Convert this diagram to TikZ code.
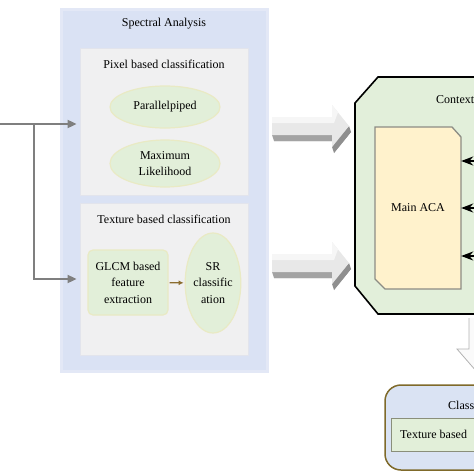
\documentclass[tikz,border=0pt]{standalone}
\usepackage{fontspec}
\setmainfont{Liberation Serif}
\usetikzlibrary{shapes.geometric,arrows.meta,calc}
\definecolor{panelblue}{HTML}{DAE2F4}
\definecolor{paneledge}{HTML}{E3E8F6}
\definecolor{innergray}{HTML}{F0F0F1}
\definecolor{innerborder}{HTML}{E2E4EC}
\definecolor{ellgreen}{HTML}{E2EFD9}
\definecolor{ellborder}{HTML}{E9EAC4}
\definecolor{ctxgreen}{HTML}{E2EFDA}
\definecolor{acayellow}{HTML}{FFF2CC}
\definecolor{acaborder}{HTML}{8C8C84}
\definecolor{classblue}{HTML}{DAE3F3}
\definecolor{classborder}{HTML}{7F6A2A}
\definecolor{linegray}{HTML}{7F7F7F}
\definecolor{brownarrow}{HTML}{8B6D2F}
\definecolor{facegray}{HTML}{E8E8E8}
\definecolor{facelight}{HTML}{F6F6F6}
\definecolor{sidegray}{HTML}{A3A3A3}
\definecolor{sidedark}{HTML}{8F8F8F}
\definecolor{texbox}{HTML}{E2EFD9}
\definecolor{texborder}{HTML}{8A8F7A}
\newcommand\myblockarrow[1]{%
  \begin{scope}[shift={#1}]
    \fill[sidegray] (2,6) -- (62,6) -- (62,-6) -- (79,15) -- (62,36) -- (62,24) -- (2,24) -- cycle;
    \fill[sidegray] (0,18) -- (60,18) -- (62,24) -- (2,24) -- cycle;
    \fill[sidedark] (60,30) -- (77,9) -- (79,15) -- (62,36) -- cycle;
    \fill[facegray] (0,0) -- (60,0) -- (60,-12) -- (77,9) -- (60,30) -- (60,18) -- (0,18) -- cycle;
    \fill[facelight] (0,0) -- (60,0) -- (60,-12) -- (66,-4.6) -- (62,6) -- (0,6) -- cycle;
  \end{scope}}
\begin{document}
\begin{tikzpicture}[x=1pt,y=-1pt,
  font=\fontsize{12}{16.6}\selectfont,
  ell/.style={ellipse, fill=ellgreen, draw=ellborder, line width=1.2pt, inner sep=0pt, align=center},
  gbox/.style={rectangle, rounded corners=5pt, fill=ellgreen, draw=ellborder, line width=1.2pt, inner sep=0pt, align=center},
  panel/.style={rectangle, fill=panelblue, draw=paneledge, line width=3pt, inner sep=0pt},
  inbox/.style={rectangle, fill=innergray, draw=innerborder, line width=0.8pt, inner sep=0pt},
  conn/.style={draw=linegray, line width=1.8pt, -{Triangle[length=9pt,width=8pt]}},
  lbl/.style={inner sep=0pt},
  blk/.style={-{Stealth[length=12pt,width=9pt,fill=black]}, line width=1.4pt, color=black},
]
\useasboundingbox (0,0) rectangle (474,474);
\clip (0,0) rectangle (474,474);

% Spectral analysis panel
\node[panel, minimum width=206pt, minimum height=362pt] (spec) at (164,190) {};
\node[lbl] (spect) at (164,24) {Spectral Analysis};
\node[inbox, minimum width=168pt, minimum height=147pt] (pix) at (164,121.5) {};
\node[lbl] (pixt) at (164,64) {Pixel based classification};
\node[ell, minimum width=110pt, minimum height=42pt] (par) at (165,107) {Parallelpiped};
\node[ell, minimum width=110pt, minimum height=47pt] (ml) at (165,163.5) {Maximum\\Likelihood};
\node[inbox, minimum width=168pt, minimum height=152pt] (tex) at (164,279) {};
\node[lbl] (text) at (164,219) {Texture based classification};
\node[gbox, minimum width=80pt, minimum height=65pt] (glcm) at (128,282.5) {GLCM based\\feature\\extraction};
\node[ell, minimum width=54pt, minimum height=100pt] (sr) at (213,283) {SR\\classific\\ation};
\draw[brownarrow, line width=1.3pt, -{Latex[length=5pt,width=5pt]}, shorten <=1pt, shorten >=1pt] (glcm) -- (sr);

% input connectors
\coordinate (in) at (0,124);
\coordinate (br) at (34,124);
\draw[conn, shorten >=3pt] (in) -- (in -| pix.west);
\draw[conn, shorten >=3pt] (br) |- (tex.west);

% block arrows
\myblockarrow{(272,117)}
\myblockarrow{(272,254)}

% Context box
\fill[ctxgreen] (378,77) -- (490,77) -- (490,314) -- (378,314) -- (355,286) -- (355,103) -- cycle;
\draw[black, line width=1.6pt] (490,77) -- (378,77) -- (355,103) -- (355,286) -- (378,314) -- (490,314);
\node[lbl, anchor=west] (ctxt) at (436,100) {Context};

% Main ACA
\fill[acayellow] (375,127) -- (452,127) -- (461,137) -- (461,289) -- (385,289) -- (375,279) -- cycle;
\draw[acaborder, line width=1.3pt] (375,127) -- (452,127) -- (461,137) -- (461,289) -- (385,289) -- (375,279) -- cycle;
\node[lbl, minimum width=86pt, minimum height=162pt] (aca) at (418,208) {Main ACA};

\coordinate (r1) at (480,161);
\coordinate (r2) at (480,208);
\coordinate (r3) at (480,256);
\draw[blk] (r1) -- (r1 -| aca.east);
\draw[blk] (r2) -- (r2 -| aca.east);
\draw[blk] (r3) -- (r3 -| aca.east);

% down block arrow (partly visible)
\fill[sidegray!70] (472,321) -- (472,351) -- (460,351) -- (493,390) -- (530,351) -- cycle;
\fill[white!96!gray] (469,318) -- (511,318) -- (511,349) -- (523,349) -- (490,387) -- (457,349) -- (469,349) -- cycle;
\draw[gray!60, line width=0.8pt] (469,318) -- (469,349) -- (457,349) -- (490,387);

% Classification box
\draw[classborder, fill=classblue, line width=1.5pt, rounded corners=16pt] (385,385) rectangle (580,470);
\node[lbl, anchor=west] (clst) at (448,405) {Class};
\node[rectangle, fill=texbox, draw=texborder, line width=1pt, minimum width=180pt, minimum height=33pt, inner sep=0pt] (texb) at (481,434.5) {};
\node[lbl, anchor=west] (texbt) at (400,434.5) {Texture based};
\end{tikzpicture}
\end{document}
